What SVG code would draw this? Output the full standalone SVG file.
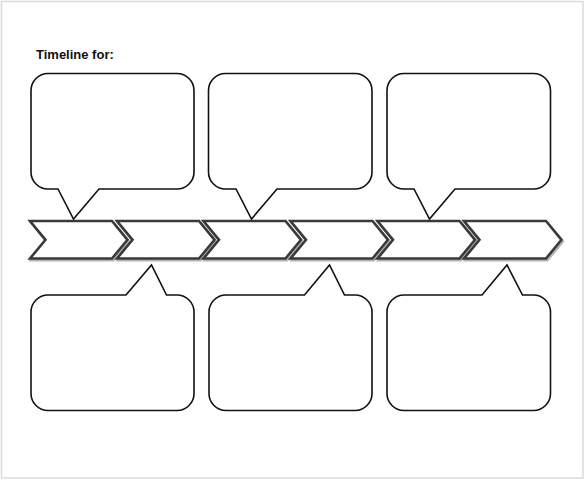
<svg xmlns="http://www.w3.org/2000/svg" width="585" height="480" viewBox="0 0 585 480">
  <style>
    .frame{fill:#ffffff;stroke:#dcdcdc;stroke-width:1.5}
    .callout{fill:#ffffff;stroke:#111111;stroke-width:1.6;stroke-linejoin:miter}
    .chev{fill:#ffffff;stroke:#3a3a3a;stroke-width:2.6;stroke-linejoin:miter}
    .chevshadow{fill:none;stroke:#b4b4b4;stroke-width:2.6;stroke-linejoin:miter}
    .title{font-family:"Liberation Sans",Arial,sans-serif;font-size:13px;font-weight:bold;fill:#111111}
  </style>
  <defs>
    <path id="chevron" d="M0,221 H82 L97.5,239.8 L82,258.5 H0 L15.5,239.8 Z"/>
  </defs>
  <rect class="frame" x="1.5" y="1.5" width="581.5" height="476.5"/>
  <text class="title" x="36" y="59">Timeline for:</text>

  <g id="connectors">
    <g transform="translate(1.3,1.8)">
      <use href="#chevron" class="chevshadow" x="30"/>
      <use href="#chevron" class="chevshadow" x="117"/>
      <use href="#chevron" class="chevshadow" x="203.5"/>
      <use href="#chevron" class="chevshadow" x="290.5"/>
      <use href="#chevron" class="chevshadow" x="377.5"/>
      <use href="#chevron" class="chevshadow" x="464"/>
    </g>
    <use id="chevron1" href="#chevron" class="chev" x="30"/>
    <use id="chevron2" href="#chevron" class="chev" x="117"/>
    <use id="chevron3" href="#chevron" class="chev" x="203.5"/>
    <use id="chevron4" href="#chevron" class="chev" x="290.5"/>
    <use id="chevron5" href="#chevron" class="chev" x="377.5"/>
    <use id="chevron6" href="#chevron" class="chev" x="464"/>
  </g>

  <g id="top1">
    <path class="callout" d="M48,73.5 H177 A17,17 0 0 1 194,90.5 V172 A17,17 0 0 1 177,189 H99 L73.5,219 L58,189 H48 A17,17 0 0 1 31,172 V90.5 A17,17 0 0 1 48,73.5 Z"/>
  </g>
  <g id="top2">
    <path class="callout" d="M225.5,73.5 H355 A17,17 0 0 1 372,90.5 V172 A17,17 0 0 1 355,189 H277 L251.5,219 L236,189 H225.5 A17,17 0 0 1 208.5,172 V90.5 A17,17 0 0 1 225.5,73.5 Z"/>
  </g>
  <g id="top3">
    <path class="callout" d="M404,73.5 H533.5 A17,17 0 0 1 550.5,90.5 V172 A17,17 0 0 1 533.5,189 H455 L429.5,219 L414,189 H404 A17,17 0 0 1 387,172 V90.5 A17,17 0 0 1 404,73.5 Z"/>
  </g>
  <g id="bottom1">
    <path class="callout" d="M48,295 H126 L151.5,265 L166.5,295 H177 A17,17 0 0 1 194,312 V393.5 A17,17 0 0 1 177,410.5 H48 A17,17 0 0 1 31,393.5 V312 A17,17 0 0 1 48,295 Z"/>
  </g>
  <g id="bottom2">
    <path class="callout" d="M226,295 H304.5 L329.5,265 L344.5,295 H355 A17,17 0 0 1 372,312 V393.5 A17,17 0 0 1 355,410.5 H226 A17,17 0 0 1 209,393.5 V312 A17,17 0 0 1 226,295 Z"/>
  </g>
  <g id="bottom3">
    <path class="callout" d="M404,295 H482 L507,265 L522.5,295 H533.5 A17,17 0 0 1 550.5,312 V393.5 A17,17 0 0 1 533.5,410.5 H404 A17,17 0 0 1 387,393.5 V312 A17,17 0 0 1 404,295 Z"/>
  </g>
</svg>
